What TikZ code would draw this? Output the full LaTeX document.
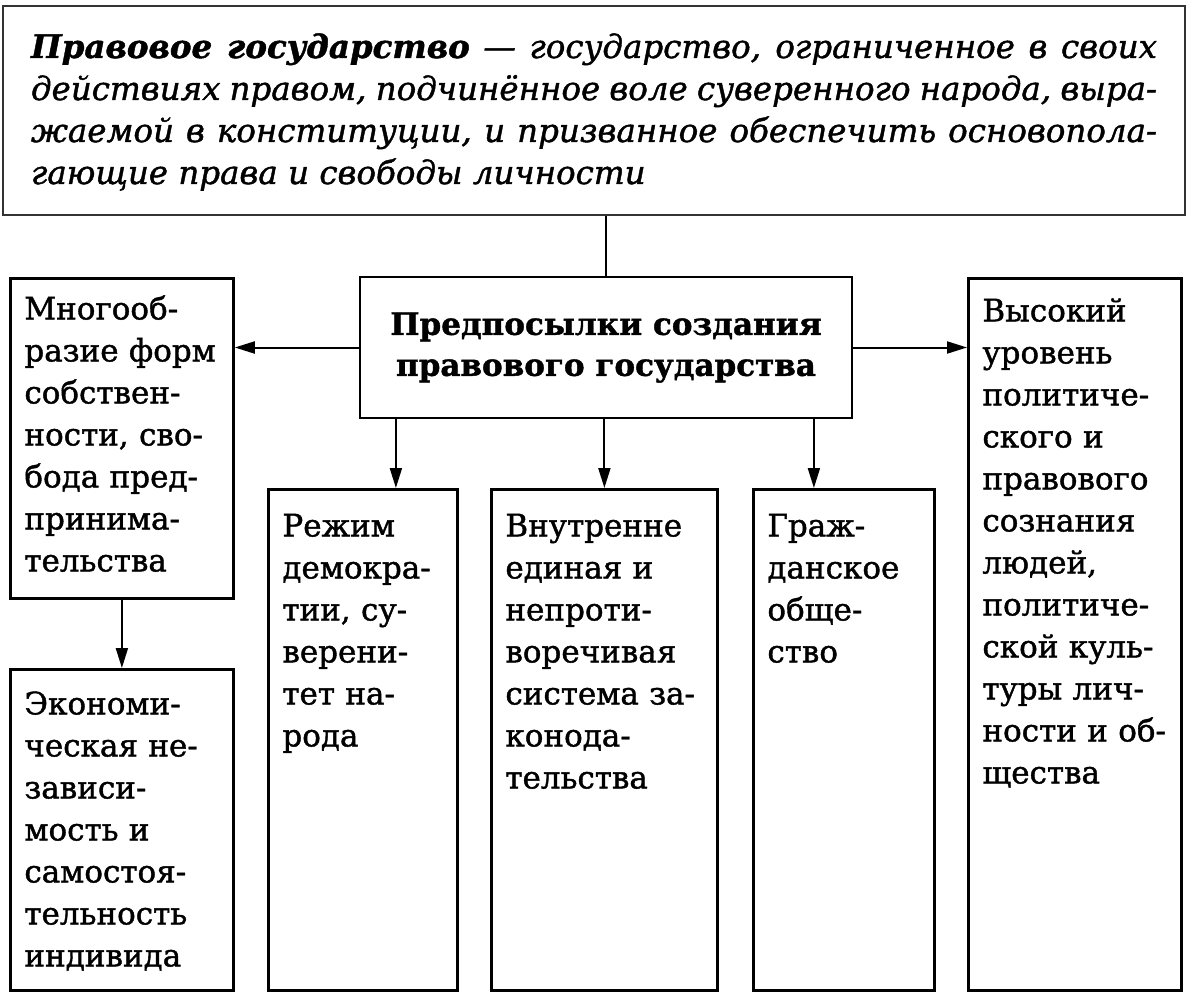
\documentclass[tikz,border=0pt]{standalone}
\usepackage{fontspec}
\setmainfont{DejaVu Serif}[FakeBold=1.3]
\usetikzlibrary{arrows.meta, calc}

\tikzset{
  cell/.style={draw, line width=2.8pt, anchor=north west, inner xsep=14pt, inner ysep=0pt,
    align=left, font=\fontsize{31}{42}\selectfont},
  arr/.style={line width=2pt, -{Triangle[length=20pt,width=12pt]}},
}

\begin{document}
\begin{tikzpicture}[x=1pt, y=-1pt]
  \useasboundingbox (0,0) rectangle (1186,992);
  \hyphenpenalty=10000
  % definition on top
  \node[draw=black!80, line width=2pt, anchor=north west, inner xsep=28pt, inner ysep=0pt,
    text width=1126pt, text height=52pt, text depth=157pt, align=justify,
    font=\fontsize{32.5}{42}\selectfont\itshape] (def) at (2,5)
    {\textbf{Правовое государство} — государство, ограниченное в своих\linebreak
     действиях правом, подчинённое воле суверенного народа, выра-\linebreak
     жаемой в конституции, и призванное обеспечить основопола-\linebreak
     гающие права и свободы личности};

  % central box
  \node[draw, line width=2.8pt, minimum width=492pt, minimum height=141pt, inner sep=0pt,
    align=center, font=\fontsize{31}{41}\selectfont\bfseries] (pre) at (606,347.5)
    {Предпосылки создания\\правового государства};

  % side and bottom boxes
  \node[cell, text width=195pt, text height=41pt, text depth=279pt] (own) at (9,277)
    {Многооб-\\разие~форм\\собствен-\\ности,~сво-\\бода~пред-\\принима-\\тельства};
  \node[cell, text width=195pt, text height=45pt, text depth=276pt] (econ) at (9,668)
    {Экономи-\\ческая~не-\\зависи-\\мость~и\\самостоя-\\тельность\\индивида};
  \node[cell, text width=161pt, text height=47pt, text depth=454pt] (demo) at (267,488)
    {Режим\\демокра-\\тии,~су-\\верени-\\тет~на-\\рода};
  \node[cell, text width=198pt, text height=47pt, text depth=454pt] (law) at (490,488)
    {Внутренне\\единая~и\\непроти-\\воречивая\\система~за-\\конода-\\тельства};
  \node[cell, text width=153pt, text height=47pt, text depth=454pt] (civil) at (752,488)
    {Граж-\\данское\\обще-\\ство};
  \node[cell, text width=185pt, text height=43pt, text depth=669pt] (cult) at (967,277)
    {Высокий\\уровень\\политиче-\\ского~и\\правового\\сознания\\людей,\\политиче-\\ской~куль-\\туры~лич-\\ности~и~об-\\щества};

  % connectors
  \coordinate (d1) at ([xshift=33pt]demo.north);
  \coordinate (c1) at ([xshift=-30pt]civil.north);
  \draw[line width=2pt] (def.south -| pre.north) -- (pre.north);
  \draw[arr] (pre.west) -- (pre.west -| own.east);
  \draw[arr] (pre.east) -- (pre.east -| cult.west);
  \draw[arr] (pre.south -| d1) -- (d1);
  \draw[arr] (pre.south -| law.north) -- (law.north);
  \draw[arr] (pre.south -| c1) -- (c1);
  \draw[arr] (own.south) -- (econ.north);
\end{tikzpicture}
\end{document}
